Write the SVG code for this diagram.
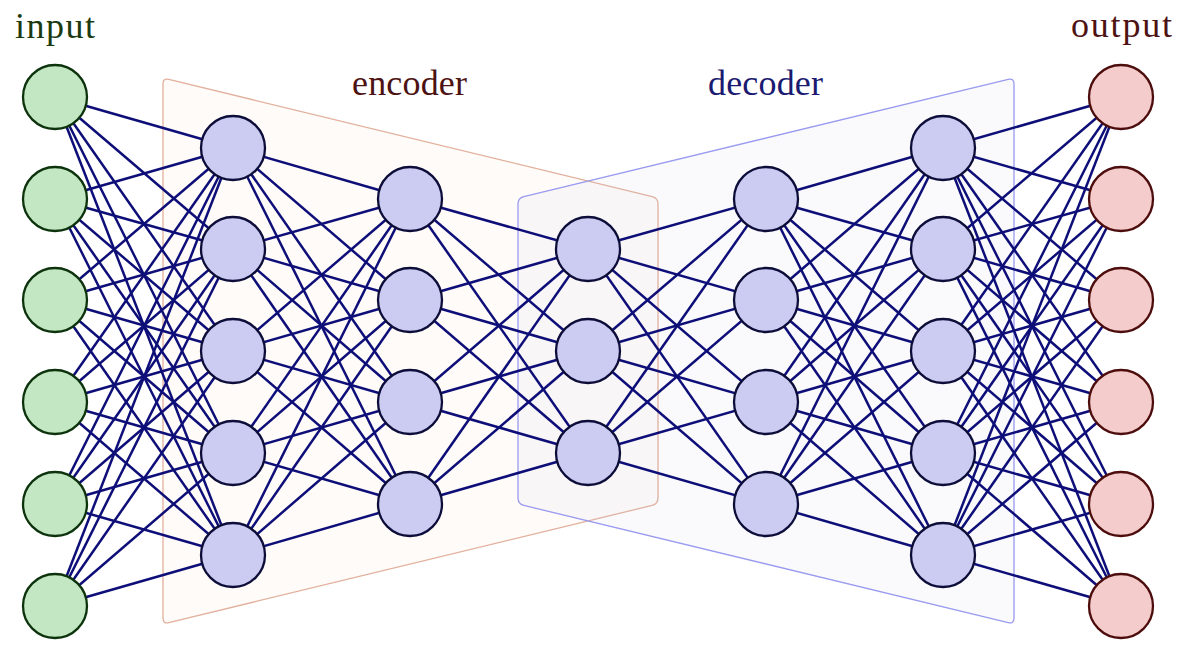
<svg xmlns="http://www.w3.org/2000/svg" width="1178" height="647" viewBox="0 0 1178 647">
<style>
.lbl{font-family:"Liberation Serif","Times New Roman",serif;font-size:36px}
.e line{stroke:#0e0e78;stroke-width:2.5}
.in{fill:#c3e6c3;stroke:#0d330d;stroke-width:2.3}
.hid{fill:#ccccf3;stroke:#0d0d3a;stroke-width:2.3}
.out{fill:#f4cccc;stroke:#4d0d0d;stroke-width:2.3}
</style>
<rect width="1178" height="647" fill="#ffffff"/>
<g id="encoder-box">
<path d="M163,84 Q163,78 168.8,79.4 L652.2,196.6 Q658,198 658,204 L658,498 Q658,504 652.2,505.4 L168.8,622.6 Q163,624 163,618 Z" fill="#f0cfc0" fill-opacity="0.09" stroke="#e2b09c" stroke-width="1.3"/>
<text class="lbl" x="352" y="95" textLength="115" fill="#4d1212">encoder</text>
</g>
<g id="decoder-box">
<path d="M518,204 Q518,198 523.8,196.6 L1008.2,79.4 Q1014,78 1014,84 L1014,618 Q1014,624 1008.2,622.6 L523.8,505.4 Q518,504 518,498 Z" fill="#c8c8ee" fill-opacity="0.09" stroke="#9a9af0" stroke-width="1.3"/>
<text class="lbl" x="708" y="95" textLength="115" fill="#1a1a70">decoder</text>
</g>
<g id="connectors" class="e">
<line x1="55" y1="97" x2="233" y2="148"/><line x1="55" y1="97" x2="233" y2="249"/><line x1="55" y1="97" x2="233" y2="351"/><line x1="55" y1="97" x2="233" y2="453"/><line x1="55" y1="97" x2="233" y2="555"/>
<line x1="55" y1="199" x2="233" y2="148"/><line x1="55" y1="199" x2="233" y2="249"/><line x1="55" y1="199" x2="233" y2="351"/><line x1="55" y1="199" x2="233" y2="453"/><line x1="55" y1="199" x2="233" y2="555"/>
<line x1="55" y1="300" x2="233" y2="148"/><line x1="55" y1="300" x2="233" y2="249"/><line x1="55" y1="300" x2="233" y2="351"/><line x1="55" y1="300" x2="233" y2="453"/><line x1="55" y1="300" x2="233" y2="555"/>
<line x1="55" y1="402" x2="233" y2="148"/><line x1="55" y1="402" x2="233" y2="249"/><line x1="55" y1="402" x2="233" y2="351"/><line x1="55" y1="402" x2="233" y2="453"/><line x1="55" y1="402" x2="233" y2="555"/>
<line x1="55" y1="504" x2="233" y2="148"/><line x1="55" y1="504" x2="233" y2="249"/><line x1="55" y1="504" x2="233" y2="351"/><line x1="55" y1="504" x2="233" y2="453"/><line x1="55" y1="504" x2="233" y2="555"/>
<line x1="55" y1="606" x2="233" y2="148"/><line x1="55" y1="606" x2="233" y2="249"/><line x1="55" y1="606" x2="233" y2="351"/><line x1="55" y1="606" x2="233" y2="453"/><line x1="55" y1="606" x2="233" y2="555"/>
<line x1="233" y1="148" x2="410" y2="199"/><line x1="233" y1="148" x2="410" y2="300"/><line x1="233" y1="148" x2="410" y2="402"/><line x1="233" y1="148" x2="410" y2="504"/>
<line x1="233" y1="249" x2="410" y2="199"/><line x1="233" y1="249" x2="410" y2="300"/><line x1="233" y1="249" x2="410" y2="402"/><line x1="233" y1="249" x2="410" y2="504"/>
<line x1="233" y1="351" x2="410" y2="199"/><line x1="233" y1="351" x2="410" y2="300"/><line x1="233" y1="351" x2="410" y2="402"/><line x1="233" y1="351" x2="410" y2="504"/>
<line x1="233" y1="453" x2="410" y2="199"/><line x1="233" y1="453" x2="410" y2="300"/><line x1="233" y1="453" x2="410" y2="402"/><line x1="233" y1="453" x2="410" y2="504"/>
<line x1="233" y1="555" x2="410" y2="199"/><line x1="233" y1="555" x2="410" y2="300"/><line x1="233" y1="555" x2="410" y2="402"/><line x1="233" y1="555" x2="410" y2="504"/>
<line x1="410" y1="199" x2="588" y2="249"/><line x1="410" y1="199" x2="588" y2="351"/><line x1="410" y1="199" x2="588" y2="453"/>
<line x1="410" y1="300" x2="588" y2="249"/><line x1="410" y1="300" x2="588" y2="351"/><line x1="410" y1="300" x2="588" y2="453"/>
<line x1="410" y1="402" x2="588" y2="249"/><line x1="410" y1="402" x2="588" y2="351"/><line x1="410" y1="402" x2="588" y2="453"/>
<line x1="410" y1="504" x2="588" y2="249"/><line x1="410" y1="504" x2="588" y2="351"/><line x1="410" y1="504" x2="588" y2="453"/>
<line x1="588" y1="249" x2="766" y2="199"/><line x1="588" y1="249" x2="766" y2="300"/><line x1="588" y1="249" x2="766" y2="402"/><line x1="588" y1="249" x2="766" y2="504"/>
<line x1="588" y1="351" x2="766" y2="199"/><line x1="588" y1="351" x2="766" y2="300"/><line x1="588" y1="351" x2="766" y2="402"/><line x1="588" y1="351" x2="766" y2="504"/>
<line x1="588" y1="453" x2="766" y2="199"/><line x1="588" y1="453" x2="766" y2="300"/><line x1="588" y1="453" x2="766" y2="402"/><line x1="588" y1="453" x2="766" y2="504"/>
<line x1="766" y1="199" x2="943" y2="148"/><line x1="766" y1="199" x2="943" y2="249"/><line x1="766" y1="199" x2="943" y2="351"/><line x1="766" y1="199" x2="943" y2="453"/><line x1="766" y1="199" x2="943" y2="555"/>
<line x1="766" y1="300" x2="943" y2="148"/><line x1="766" y1="300" x2="943" y2="249"/><line x1="766" y1="300" x2="943" y2="351"/><line x1="766" y1="300" x2="943" y2="453"/><line x1="766" y1="300" x2="943" y2="555"/>
<line x1="766" y1="402" x2="943" y2="148"/><line x1="766" y1="402" x2="943" y2="249"/><line x1="766" y1="402" x2="943" y2="351"/><line x1="766" y1="402" x2="943" y2="453"/><line x1="766" y1="402" x2="943" y2="555"/>
<line x1="766" y1="504" x2="943" y2="148"/><line x1="766" y1="504" x2="943" y2="249"/><line x1="766" y1="504" x2="943" y2="351"/><line x1="766" y1="504" x2="943" y2="453"/><line x1="766" y1="504" x2="943" y2="555"/>
<line x1="943" y1="148" x2="1121" y2="97"/><line x1="943" y1="148" x2="1121" y2="199"/><line x1="943" y1="148" x2="1121" y2="300"/><line x1="943" y1="148" x2="1121" y2="402"/><line x1="943" y1="148" x2="1121" y2="504"/><line x1="943" y1="148" x2="1121" y2="606"/>
<line x1="943" y1="249" x2="1121" y2="97"/><line x1="943" y1="249" x2="1121" y2="199"/><line x1="943" y1="249" x2="1121" y2="300"/><line x1="943" y1="249" x2="1121" y2="402"/><line x1="943" y1="249" x2="1121" y2="504"/><line x1="943" y1="249" x2="1121" y2="606"/>
<line x1="943" y1="351" x2="1121" y2="97"/><line x1="943" y1="351" x2="1121" y2="199"/><line x1="943" y1="351" x2="1121" y2="300"/><line x1="943" y1="351" x2="1121" y2="402"/><line x1="943" y1="351" x2="1121" y2="504"/><line x1="943" y1="351" x2="1121" y2="606"/>
<line x1="943" y1="453" x2="1121" y2="97"/><line x1="943" y1="453" x2="1121" y2="199"/><line x1="943" y1="453" x2="1121" y2="300"/><line x1="943" y1="453" x2="1121" y2="402"/><line x1="943" y1="453" x2="1121" y2="504"/><line x1="943" y1="453" x2="1121" y2="606"/>
<line x1="943" y1="555" x2="1121" y2="97"/><line x1="943" y1="555" x2="1121" y2="199"/><line x1="943" y1="555" x2="1121" y2="300"/><line x1="943" y1="555" x2="1121" y2="402"/><line x1="943" y1="555" x2="1121" y2="504"/><line x1="943" y1="555" x2="1121" y2="606"/>
</g>
<g id="input-label"><text class="lbl" x="15" y="38" textLength="80" fill="#1c3a10">input</text></g>
<g id="output-label"><text class="lbl" x="1071" y="37" textLength="101" fill="#4d1212">output</text></g>
<g id="in1"><circle class="in" cx="55" cy="97" r="32"/></g>
<g id="in2"><circle class="in" cx="55" cy="199" r="32"/></g>
<g id="in3"><circle class="in" cx="55" cy="300" r="32"/></g>
<g id="in4"><circle class="in" cx="55" cy="402" r="32"/></g>
<g id="in5"><circle class="in" cx="55" cy="504" r="32"/></g>
<g id="in6"><circle class="in" cx="55" cy="606" r="32"/></g>
<g id="h1a"><circle class="hid" cx="233" cy="148" r="32"/></g>
<g id="h1b"><circle class="hid" cx="233" cy="249" r="32"/></g>
<g id="h1c"><circle class="hid" cx="233" cy="351" r="32"/></g>
<g id="h1d"><circle class="hid" cx="233" cy="453" r="32"/></g>
<g id="h1e"><circle class="hid" cx="233" cy="555" r="32"/></g>
<g id="h2a"><circle class="hid" cx="410" cy="199" r="32"/></g>
<g id="h2b"><circle class="hid" cx="410" cy="300" r="32"/></g>
<g id="h2c"><circle class="hid" cx="410" cy="402" r="32"/></g>
<g id="h2d"><circle class="hid" cx="410" cy="504" r="32"/></g>
<g id="z1"><circle class="hid" cx="588" cy="249" r="32"/></g>
<g id="z2"><circle class="hid" cx="588" cy="351" r="32"/></g>
<g id="z3"><circle class="hid" cx="588" cy="453" r="32"/></g>
<g id="h4a"><circle class="hid" cx="766" cy="199" r="32"/></g>
<g id="h4b"><circle class="hid" cx="766" cy="300" r="32"/></g>
<g id="h4c"><circle class="hid" cx="766" cy="402" r="32"/></g>
<g id="h4d"><circle class="hid" cx="766" cy="504" r="32"/></g>
<g id="h5a"><circle class="hid" cx="943" cy="148" r="32"/></g>
<g id="h5b"><circle class="hid" cx="943" cy="249" r="32"/></g>
<g id="h5c"><circle class="hid" cx="943" cy="351" r="32"/></g>
<g id="h5d"><circle class="hid" cx="943" cy="453" r="32"/></g>
<g id="h5e"><circle class="hid" cx="943" cy="555" r="32"/></g>
<g id="out1"><circle class="out" cx="1121" cy="97" r="32"/></g>
<g id="out2"><circle class="out" cx="1121" cy="199" r="32"/></g>
<g id="out3"><circle class="out" cx="1121" cy="300" r="32"/></g>
<g id="out4"><circle class="out" cx="1121" cy="402" r="32"/></g>
<g id="out5"><circle class="out" cx="1121" cy="504" r="32"/></g>
<g id="out6"><circle class="out" cx="1121" cy="606" r="32"/></g>
</svg>
